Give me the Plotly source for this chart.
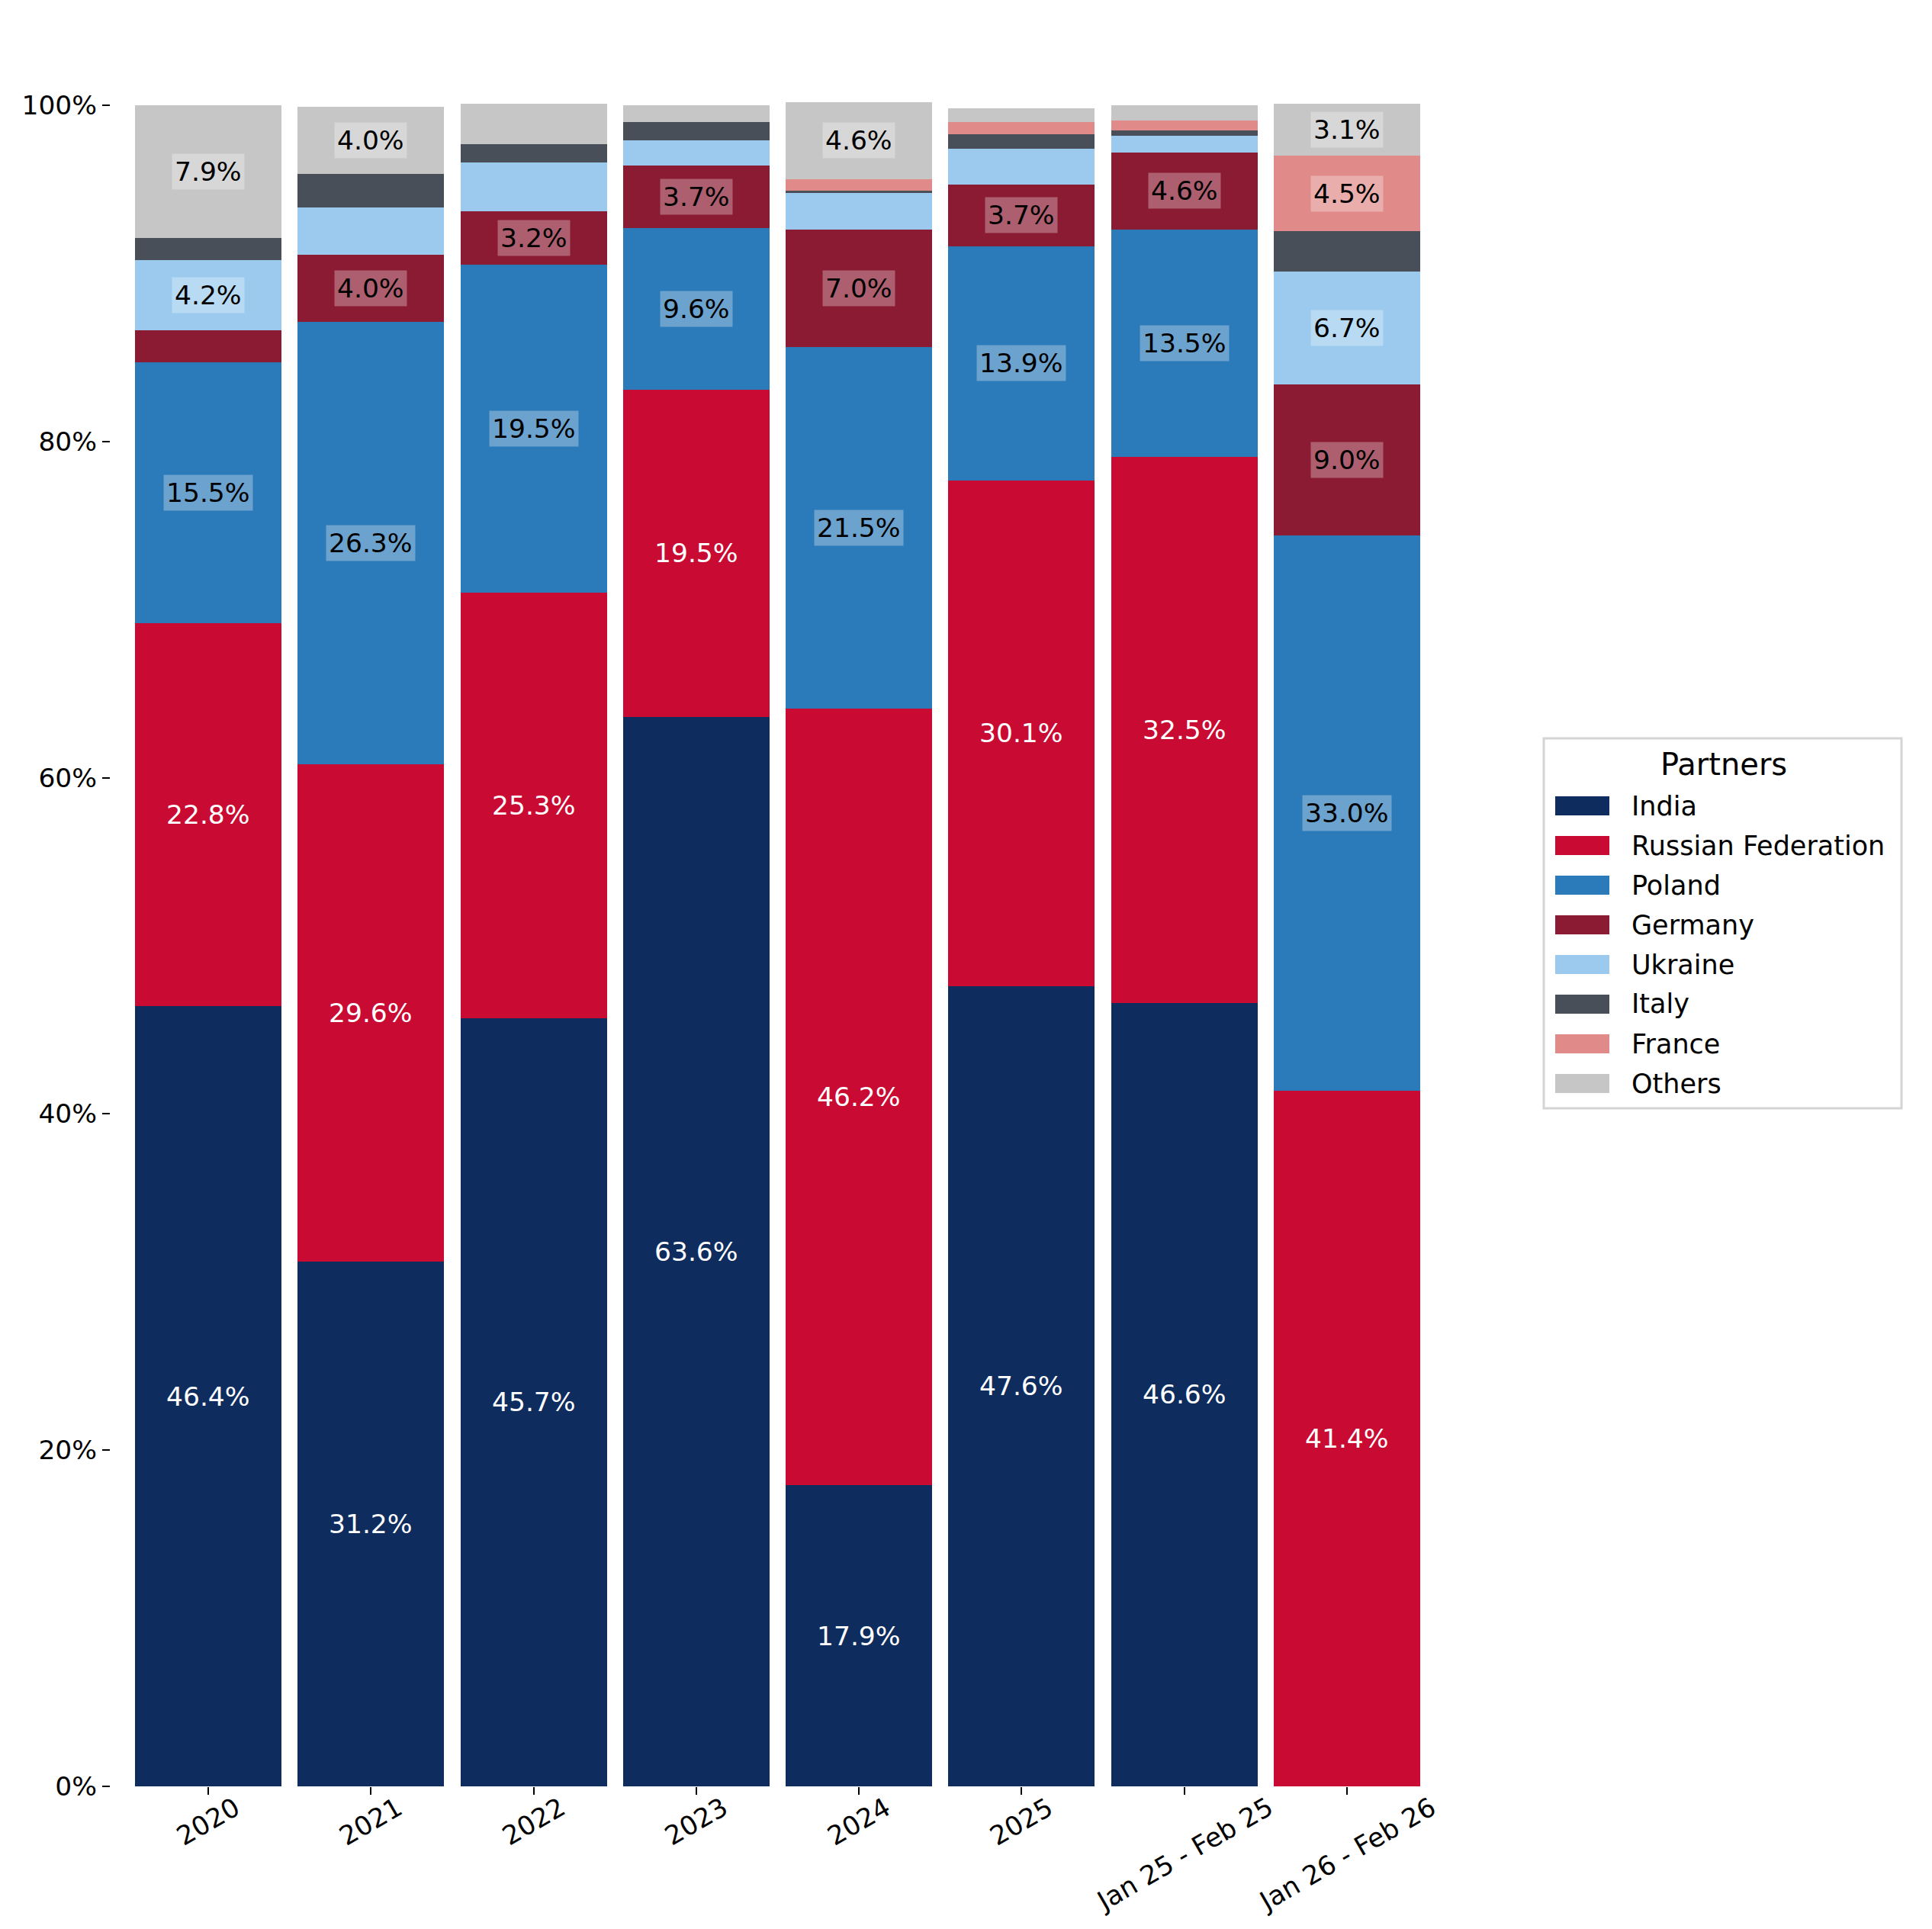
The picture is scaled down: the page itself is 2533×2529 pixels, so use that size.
import plotly.graph_objects as go

categories = ["2020", "2021", "2022", "2023", "2024", "2025", "Jan 25 - Feb 25", "Jan 26 - Feb 26"]

india = [46.4, 31.2, 45.7, 63.6, 17.9, 47.6, 46.6, 0.0]
russia = [22.8, 29.6, 25.3, 19.5, 46.2, 30.1, 32.5, 41.4]
poland = [15.5, 26.3, 19.5, 9.6, 21.5, 13.9, 13.5, 33.0]
germany = [1.9, 4.0, 3.2, 3.7, 7.0, 3.7, 4.6, 9.0]
ukraine = [4.2, 2.8, 2.9, 1.5, 2.2, 2.1, 1.0, 6.7]
italy = [1.3, 2.0, 1.1, 1.1, 0.1, 0.9, 0.3, 2.4]
france = [0.0, 0.0, 0.0, 0.0, 0.7, 0.7, 0.6, 4.5]
others = [7.9, 4.0, 2.4, 1.0, 4.6, 0.8, 0.9, 3.1]

series_names = ["India", "Russian Federation", "Poland", "Germany", "Ukraine", "Italy", "France", "Others"]
series_values = [india, russia, poland, germany, ukraine, italy, france, others]
series_colors = ["#0e2c5e", "#c90b33", "#2b7ab9", "#8a1b32", "#9bcaee", "#484f59", "#e08b89", "#c6c6c6"]
label_white = [True, True, False, False, False, False, False, False]

y_tick_vals = [0, 20, 40, 60, 80, 100]
y_tick_text = ["0%", "20%", "40%", "60%", "80%", "100%"]

legend_title = "Partners"

FONT = "DejaVu Sans"
W, H = 2533, 2529
ML, MR, MT, MB = 145, 629, 116, 187
PW, PH = W - ML - MR, H - MT - MB


def px_x(px):
    return (px - ML) / PW


def px_y(py):
    return (H - MB - py) / PH


fig = go.Figure()
for name, vals, col in zip(series_names, series_values, series_colors):
    fig.add_trace(go.Bar(
        x=categories, y=vals, name=name,
        marker=dict(color=col, line=dict(width=0)),
        hoverinfo="skip", showlegend=False,
    ))

annotations = []
shapes = []
cum = [0.0] * len(categories)
for vals, white in zip(series_values, label_white):
    for i, v in enumerate(vals):
        mid = cum[i] + v / 2
        if v >= 3.0:
            if white:
                annotations.append(dict(
                    x=i, y=mid, xref="x", yref="y",
                    text=f"{v:.1f}%", showarrow=False,
                    font=dict(family=FONT, size=34.5, color="white"),
                ))
            else:
                annotations.append(dict(
                    x=i, y=mid, xref="x", yref="y",
                    text=f"{v:.1f}%", showarrow=False,
                    font=dict(family=FONT, size=34.5, color="black"),
                    bgcolor="rgba(255,255,255,0.3)", borderpad=3,
                ))
        cum[i] += v

for i, c in enumerate(categories):
    annotations.append(dict(
        x=i, y=0, xref="x", yref="paper", yshift=-4,
        text=c, showarrow=False, textangle=-30,
        xanchor="center", yanchor="top",
        font=dict(family=FONT, size=34.5, color="black"),
    ))

# legend box (drawn in paper coordinates)
shapes.append(dict(
    type="rect", xref="paper", yref="paper",
    x0=px_x(2024), x1=px_x(2493), y0=px_y(1453), y1=px_y(968),
    line=dict(color="#d4d4d4", width=3), fillcolor="white", layer="above",
))
annotations.append(dict(
    x=px_x(2260), y=px_y(1002), xref="paper", yref="paper",
    text=legend_title, showarrow=False, xanchor="center", yanchor="middle",
    font=dict(family=FONT, size=40, color="black"),
))
for k, (name, col) in enumerate(zip(series_names, series_colors)):
    cy = 1056.5 + 52 * k
    shapes.append(dict(
        type="rect", xref="paper", yref="paper",
        x0=px_x(2039), x1=px_x(2110), y0=px_y(cy + 12.5), y1=px_y(cy - 12.5),
        line=dict(width=0), fillcolor=col, layer="above",
    ))
    annotations.append(dict(
        x=px_x(2137), y=px_y(cy), xref="paper", yref="paper",
        text=name, showarrow=False, xanchor="left", yanchor="middle",
        font=dict(family=FONT, size=35, color="black"),
    ))

fig.update_layout(
    width=W, height=H,
    barmode="stack", bargap=0.1,
    paper_bgcolor="white", plot_bgcolor="white",
    margin=dict(l=ML, r=MR, t=MT, b=MB, pad=0),
    font=dict(family=FONT, size=34, color="black"),
    xaxis=dict(
        type="category", categoryorder="array", categoryarray=categories,
        range=[-0.6, 7.647], showticklabels=False,
        ticks="outside", ticklen=10, tickwidth=2, tickcolor="black",
        showgrid=False, zeroline=False, showline=False, fixedrange=True,
    ),
    yaxis=dict(
        range=[0, 101], tickmode="array", tickvals=y_tick_vals, ticktext=y_tick_text,
        ticks="outside", ticklen=10, tickwidth=2, tickcolor="black",
        tickfont=dict(family=FONT, size=34.5, color="black"),
        showgrid=False, zeroline=False, showline=False, fixedrange=True,
    ),
    annotations=annotations,
    shapes=shapes,
    showlegend=False,
)

fig.write_html(
    "out.html",
    config={"displayModeBar": False},
    post_script="document.body.style.margin='0';document.body.style.overflow='hidden';",
)
